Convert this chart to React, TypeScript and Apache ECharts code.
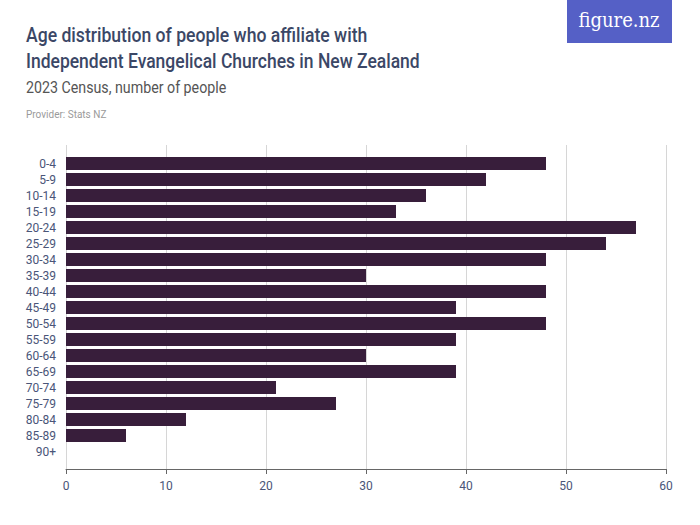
import React, { useEffect, useRef } from "react";
import * as echarts from "echarts";

const categories = ["0-4", "5-9", "10-14", "15-19", "20-24", "25-29", "30-34", "35-39", "40-44", "45-49", "50-54", "55-59", "60-64", "65-69", "70-74", "75-79", "80-84", "85-89", "90+"];
const values = [48, 42, 36, 33, 57, 54, 48, 30, 48, 39, 48, 39, 30, 39, 21, 27, 12, 6, 0];
const xMin = 0;
const xMax = 60;
const xInterval = 10;

const titleLine1 = "Age distribution of people who affiliate with";
const titleLine2 = "Independent Evangelical Churches in New Zealand";
const subtitle = "2023 Census, number of people";
const provider = "Provider: Stats NZ";

const FONT = "Roboto, 'Noto Sans', sans-serif";

export default function App() {
  const ref = useRef<HTMLDivElement>(null);
  useEffect(() => {
    if (!ref.current) return;
    const chart = echarts.init(ref.current, undefined, { renderer: "svg" });
    const txt = (text: string, y: number, font: string, fill: string, sx: number) => ({
      type: "text",
      x: 26,
      y,
      scaleX: sx,
      style: { text, font, fill, textAlign: "left", textVerticalAlign: "middle" },
    });
    chart.setOption({
      animation: false,
      backgroundColor: "#ffffff",
      graphic: [
        txt(titleLine1, 36, `500 20px ${FONT}`, "#3b4766", 0.88),
        txt(titleLine2, 62, `500 20px ${FONT}`, "#3b4766", 0.875),
        txt(subtitle, 88, `400 16px ${FONT}`, "#555555", 0.89),
        txt(provider, 114, `400 11px ${FONT}`, "#9a9a9a", 0.91),
        {
          type: "group",
          left: 567,
          top: 0,
          children: [
            { type: "rect", shape: { x: 0, y: 0, width: 105, height: 43 }, style: { fill: "#5560c6" } },
            {
              type: "text",
              x: 52,
              y: 20,
              style: {
                text: "figure.nz",
                fill: "#ffffff",
                font: "500 20px 'DejaVu Serif Condensed', 'Liberation Serif', serif",
                textAlign: "center",
                textVerticalAlign: "middle",
              },
            },
          ],
        },
      ],
      grid: [
        { left: 66, right: 34, top: 145, height: 324 },
        { left: 66, right: 34, top: 155.5, height: 304 },
      ],
      xAxis: [
        {
          gridIndex: 0,
          type: "value",
          min: xMin,
          max: xMax,
          interval: xInterval,
          axisLine: { show: true, lineStyle: { color: "#666666", width: 1 } },
          axisTick: { show: true, length: 5, lineStyle: { color: "#666666" } },
          axisLabel: { color: "#4a5578", fontSize: 12, fontFamily: FONT, margin: 11 },
          splitLine: { show: true, lineStyle: { color: "#d6d6d6", width: 1 } },
        },
        {
          gridIndex: 1,
          type: "value",
          min: xMin,
          max: xMax,
          interval: xInterval,
          show: false,
          splitLine: { show: false },
        },
      ],
      yAxis: [
        { gridIndex: 0, type: "value", show: false, splitLine: { show: false } },
        {
          gridIndex: 1,
          type: "category",
          inverse: true,
          data: categories,
          axisLine: { show: false },
          axisTick: { show: false },
          splitLine: { show: false },
          axisLabel: { color: "#4a5578", fontSize: 12, fontFamily: FONT, margin: 10 },
        },
      ],
      series: [
        {
          type: "bar",
          xAxisIndex: 1,
          yAxisIndex: 1,
          data: values,
          barWidth: 13,
          itemStyle: { color: "#381e3b" },
        },
      ],
    });
    return () => chart.dispose();
  }, []);
  return <div ref={ref} style={{ width: 700, height: 525, position: "absolute", left: 0, top: 0 }} />;
}
